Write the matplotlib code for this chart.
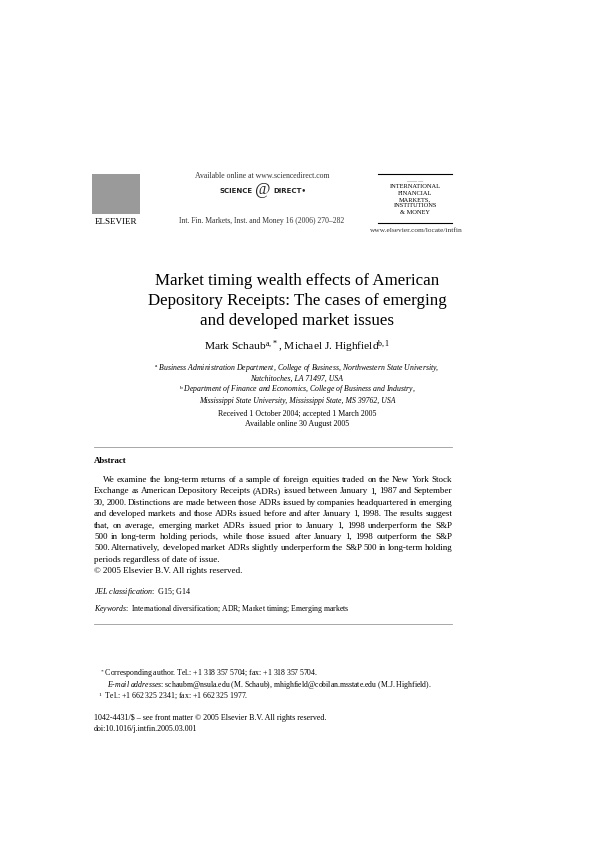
import matplotlib
matplotlib.use("Agg")
import matplotlib.pyplot as plt
from matplotlib.patches import Rectangle

W, H = 595, 842
plt.rcParams['font.family'] = ['Liberation Serif', 'DejaVu Serif']
plt.rcParams['mathtext.fontset'] = 'custom'
plt.rcParams['mathtext.rm'] = 'Liberation Serif'
plt.rcParams['mathtext.it'] = 'Liberation Serif:italic'
plt.rcParams['mathtext.bf'] = 'Liberation Serif:bold'
fig = plt.figure(figsize=(W/100, H/100), dpi=100)
ax = fig.add_axes([0, 0, 1, 1])
ax.set_xlim(0, W); ax.set_ylim(H, 0); ax.axis('off')

def t(x, y, s, size=6, ha='left', **kw):
    return ax.text(x, y, s, fontsize=size, ha=ha, va='center', **kw)

title_lines = ["Market timing wealth effects of American",
               "Depository Receipts: The cases of emerging",
               "and developed market issues"]
affil_lines = [("a", "Business Administration Department, College of Business, Northwestern State University,"),
               ("", "Natchitoches, LA 71497, USA"),
               ("b", "Department of Finance and Economics, College of Business and Industry,"),
               ("", "Mississippi State University, Mississippi State, MS 39762, USA")]
abstract_lines = [
 "We examine the long-term returns of a sample of foreign equities traded on the New York Stock",
 "Exchange as American Depository Receipts (ADRs) issued between January 1, 1987 and September",
 "30, 2000. Distinctions are made between those ADRs issued by companies headquartered in emerging",
 "and developed markets and those ADRs issued before and after January 1, 1998. The results suggest",
 "that, on average, emerging market ADRs issued prior to January 1, 1998 underperform the S&P",
 "500 in long-term holding periods, while those issued after January 1, 1998 outperform the S&P",
 "500. Alternatively, developed market ADRs slightly underperform the S&P 500 in long-term holding",
 "periods regardless of date of issue."]
journal_box = ["INTERNATIONAL", "FINANCIAL", "MARKETS,", "INSTITUTIONS", "& MONEY"]

# header
ax.add_patch(Rectangle((92, 174), 48, 40, facecolor='#9a9a9a', edgecolor='none', hatch='xxxx'))
t(116, 222, "ELSEVIER", 6.5, ha='center')
t(262, 176, "Available online at www.sciencedirect.com", 5.6, ha='center', color='#333')
t(236, 191, "SCIENCE", 5.0, ha='center', family=['DejaVu Sans'], weight='bold', color='#222')
t(262, 190, "@", 12, ha='center', color='#222', style='italic')
t(290, 191, "DIRECT\u2022", 5.0, ha='center', family=['DejaVu Sans'], weight='bold', color='#222')
t(262, 221, "Int. Fin. Markets, Inst. and Money 16 (2006) 270\u2013282", 5.5, ha='center', color='#333')
ax.plot([378, 452], [174, 174], color='k', lw=0.8)
ax.plot([378, 452], [223, 223], color='k', lw=0.8)
t(415, 181, "— — —", 3.5, ha='center')
for i, s in enumerate(journal_box):
    t(415, 187 + i*6.3, s, 4.6, ha='center')
t(416, 231, "www.elsevier.com/locate/intfin", 5.3, ha='center', color='#333')

# title
for i, s in enumerate(title_lines):
    t(297, 281 + i*20, s, 12.2, ha='center')
# authors
t(297, 347, r"Mark Schaub$^{\mathrm{a,*}}$, Michael J. Highfield$^{\mathrm{b,1}}$", 8.2, ha='center')
for i, (sup, s) in enumerate(affil_lines):
    txt = (r"$^{\mathrm{%s}}$ " % sup if sup else "") + s
    t(297, 368 + i*11, txt, 5.6, ha='center', style='italic')
t(297, 414, "Received 1 October 2004; accepted 1 March 2005", 5.7, ha='center')
t(297, 424, "Available online 30 August 2005", 5.7, ha='center')

L, R = 94, 452
ax.plot([L, R], [447, 447], color='#999', lw=0.6)
t(L, 461, "Abstract", 6.4, weight='bold')

fig.canvas.draw()
rend = fig.canvas.get_renderer()
def width(s, size):
    tt = ax.text(0, 0, s, fontsize=size)
    bb = tt.get_window_extent(rend)
    tt.remove()
    return (bb.x1 - bb.x0)

def justify(x0, x1, y, s, size):
    words = s.split(' ')
    ws = [width(w, size) for w in words]
    gap = (x1 - x0 - sum(ws)) / (len(words) - 1)
    x = x0
    for w, wd in zip(words, ws):
        t(x, y, w, size)
        x += wd + gap

fs = 6.5
for i, s in enumerate(abstract_lines):
    y = 480 + i*11.4
    x0 = 103 if i == 0 else L
    if i < len(abstract_lines) - 1:
        justify(x0, R, y, s, fs)
    else:
        t(x0, y, s, fs)
t(L, 571, "\u00a9 2005 Elsevier B.V. All rights reserved.", fs)
t(L, 592, r"$\it{JEL\ classification}$:  G15; G14", 5.8)
t(L, 609, r"$\it{Keywords}$:  International diversification; ADR; Market timing; Emerging markets", 5.6)
ax.plot([L, R], [624, 624], color='#999', lw=0.6)

fn = 5.6
t(100, 673, r"$^{*}$ Corresponding author. Tel.: +1 318 357 5704; fax: +1 318 357 5704.", fn)
t(107, 685, r"$\it{E}$-$\it{mail\ addresses}$: schaubm@nsula.edu (M. Schaub), mhighfield@cobilan.msstate.edu (M.J. Highfield).", fn)
t(98, 696, r"$^{1}$  Tel.: +1 662 325 2341; fax: +1 662 325 1977.", fn)
t(L, 718, "1042-4431/$ \u2013 see front matter \u00a9 2005 Elsevier B.V. All rights reserved.", 5.8)
t(L, 729, "doi:10.1016/j.intfin.2005.03.001", 5.8)

fig.savefig("out.png", dpi=100)
